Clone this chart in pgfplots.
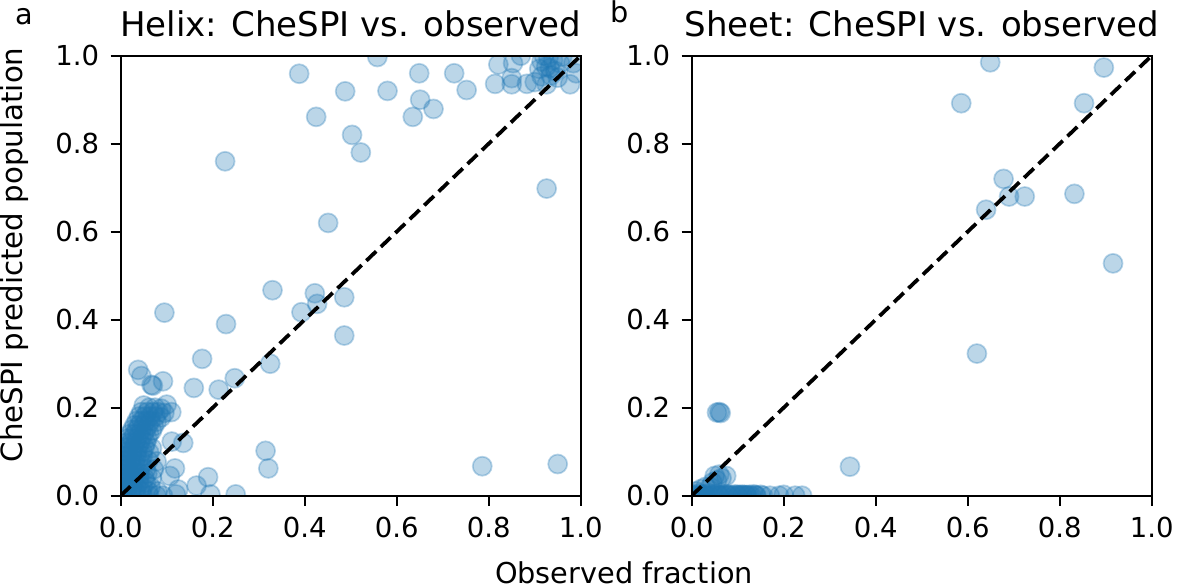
\documentclass[border=0pt]{standalone}
\usepackage{fontspec}
\setmainfont{DejaVu Sans}
\usepackage{pgfplots}
\usepackage{pgfplotstable}
\pgfplotsset{compat=1.18}
\definecolor{tabblue}{HTML}{1F77B4}

\pgfplotstableread{
x y
0.388 0.959
0.558 0.997
0.488 0.919
0.580 0.920
0.649 0.960
0.725 0.960
0.752 0.922
0.651 0.900
0.680 0.879
0.635 0.861
0.425 0.861
0.503 0.820
0.522 0.780
0.227 0.760
0.451 0.620
0.926 0.698
0.821 0.980
0.853 0.983
0.814 0.936
0.850 0.949
0.850 0.935
0.883 0.936
0.915 0.987
0.933 0.972
0.915 0.953
0.900 0.940
0.926 0.935
0.955 0.983
0.984 0.983
0.977 0.935
0.950 0.950
0.920 1.000
0.930 0.995
0.940 0.990
0.925 0.975
0.945 0.965
0.935 0.955
0.910 0.970
0.960 0.998
0.870 1.000
0.990 0.960
0.095 0.416
0.229 0.390
0.330 0.467
0.422 0.460
0.427 0.436
0.393 0.417
0.486 0.451
0.486 0.364
0.177 0.311
0.325 0.300
0.248 0.267
0.213 0.241
0.159 0.245
0.038 0.286
0.045 0.272
0.067 0.252
0.070 0.250
0.092 0.260
0.100 0.207
0.110 0.190
0.111 0.123
0.136 0.120
0.315 0.102
0.321 0.062
0.786 0.067
0.950 0.072
0.118 0.062
0.107 0.045
0.165 0.023
0.190 0.042
0.195 0.003
0.250 0.003
0.120 0.003
0.125 0.014
0.050 0.205
0.062 0.200
0.075 0.200
0.088 0.198
0.045 0.190
0.058 0.190
0.070 0.190
0.082 0.190
0.095 0.188
0.040 0.180
0.052 0.180
0.064 0.180
0.076 0.180
0.088 0.178
0.035 0.170
0.045 0.170
0.055 0.170
0.065 0.170
0.078 0.168
0.030 0.160
0.040 0.160
0.050 0.160
0.060 0.160
0.072 0.158
0.025 0.150
0.035 0.150
0.045 0.150
0.055 0.150
0.068 0.148
0.020 0.140
0.030 0.140
0.040 0.140
0.050 0.140
0.062 0.140
0.015 0.130
0.025 0.130
0.035 0.130
0.045 0.130
0.058 0.130
0.012 0.120
0.022 0.120
0.032 0.120
0.042 0.120
0.055 0.120
0.008 0.110
0.018 0.110
0.028 0.110
0.038 0.110
0.052 0.110
0.068 0.108
0.005 0.100
0.015 0.100
0.025 0.100
0.035 0.100
0.048 0.100
0.062 0.098
0.005 0.090
0.015 0.090
0.025 0.090
0.035 0.090
0.048 0.090
0.003 0.080
0.012 0.080
0.022 0.080
0.032 0.080
0.045 0.080
0.060 0.080
0.078 0.078
0.003 0.070
0.012 0.070
0.022 0.070
0.032 0.070
0.045 0.070
0.002 0.060
0.010 0.060
0.020 0.060
0.030 0.060
0.042 0.060
0.055 0.060
0.072 0.060
0.002 0.050
0.010 0.050
0.020 0.050
0.030 0.050
0.042 0.050
0.058 0.050
0.001 0.040
0.008 0.040
0.018 0.040
0.028 0.040
0.040 0.040
0.052 0.040
0.068 0.040
0.001 0.030
0.008 0.030
0.018 0.030
0.028 0.030
0.040 0.030
0.055 0.030
0.000 0.020
0.006 0.020
0.015 0.020
0.025 0.020
0.035 0.020
0.048 0.020
0.065 0.020
0.000 0.010
0.005 0.010
0.012 0.010
0.022 0.010
0.032 0.010
0.045 0.010
0.060 0.010
0.080 0.010
0.000 0.000
0.005 0.000
0.015 0.000
0.025 0.000
0.035 0.000
0.048 0.000
0.062 0.000
0.078 0.000
0.092 0.000
}\helixdata

\pgfplotstableread{
x y
0.649 0.985
0.896 0.973
0.586 0.892
0.853 0.892
0.678 0.720
0.690 0.680
0.724 0.680
0.640 0.650
0.832 0.686
0.916 0.528
0.620 0.323
0.344 0.066
0.055 0.189
0.060 0.190
0.063 0.188
0.050 0.045
0.060 0.048
0.075 0.045
0.065 0.040
0.055 0.035
0.010 0.010
0.020 0.015
0.030 0.020
0.040 0.020
0.045 0.030
0.000 0.000
0.005 0.002
0.010 0.000
0.015 0.005
0.020 0.000
0.025 0.003
0.030 0.000
0.035 0.005
0.040 0.000
0.045 0.002
0.050 0.000
0.055 0.004
0.060 0.000
0.065 0.002
0.070 0.000
0.075 0.003
0.080 0.000
0.085 0.002
0.090 0.000
0.095 0.003
0.100 0.000
0.105 0.002
0.110 0.000
0.115 0.002
0.120 0.000
0.125 0.002
0.130 0.000
0.135 0.003
0.140 0.000
0.150 0.002
0.155 0.000
0.170 0.000
0.190 0.000
0.200 0.002
0.225 0.000
0.240 0.000
0.020 0.000
0.030 0.002
0.060 0.001
0.080 0.001
0.100 0.001
0.110 0.002
0.120 0.001
0.140 0.001
}\sheetdata

\pgfplotsset{
  panel/.style={
    scale only axis, width=184pt, height=176pt,
    xmin=0, xmax=1, ymin=0, ymax=1,
    xtick={0,0.2,0.4,0.6,0.8,1.0},
    ytick={0,0.2,0.4,0.6,0.8,1.0},
    xticklabels={0.0,0.2,0.4,0.6,0.8,1.0},
    yticklabels={0.0,0.2,0.4,0.6,0.8,1.0},
    tick align=outside, major tick length=4pt,
    xtick pos=bottom, ytick pos=left,
    axis line style={line width=0.8pt},
    every tick/.style={black, line width=0.8pt},
    tick label style={font=\fontsize{11}{13}\selectfont},
    xticklabel style={anchor=north, inner sep=0pt, yshift=-4.4pt},
    yticklabel style={anchor=east, inner sep=0pt, xshift=-4.4pt},
    axis on top,
    clip marker paths=true,
    every axis title/.style={at={(0.5,1)}, anchor=base, yshift=7.6pt, font=\fontsize{13.6}{15}\selectfont},
  },
  dots/.style={only marks, mark=*, mark size=3.8pt,
    mark options={fill=tabblue, draw=tabblue, fill opacity=0.3, draw opacity=0.3, line width=0.7pt}},
  diag/.style={black, line width=1.5pt, dash pattern=on 5.4pt off 2.6pt},
}

\begin{document}
\begin{tikzpicture}
\useasboundingbox (-48.28pt,-36.92pt) rectangle (431.72pt,198.28pt);
\begin{axis}[panel, at={(0pt,0pt)}, anchor=origin, title={Helix: CheSPI vs. observed}]
\addplot[dots] table {\helixdata};
\addplot[diag] coordinates {(0,0) (1,1)};
\end{axis}
\begin{axis}[panel, at={(228.4pt,0pt)}, anchor=origin, title={Sheet: CheSPI vs. observed}]
\addplot[dots] table {\sheetdata};
\addplot[diag] coordinates {(0,0) (1,1)};
\end{axis}
\node[font=\fontsize{11.7}{13}\selectfont, rotate=90, anchor=base] at (-39.1pt,96.3pt) {CheSPI predicted population};
\node[font=\fontsize{11.5}{13}\selectfont, anchor=base] at (201.3pt,-35.0pt) {Observed fraction};
\node[font=\fontsize{11.5}{13}\selectfont, anchor=base west, inner sep=0pt] at (-42.3pt,188.3pt) {a};
\node[font=\fontsize{11.5}{13}\selectfont, anchor=base west, inner sep=0pt] at (195.7pt,189.1pt) {b};
\end{tikzpicture}
\end{document}
